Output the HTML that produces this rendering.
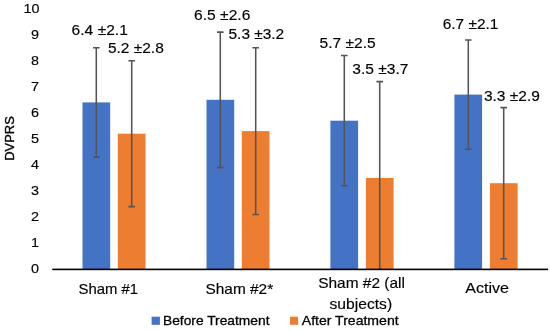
<!DOCTYPE html><html><head><meta charset="utf-8"><title>DVPRS chart</title><style>html,body{margin:0;padding:0;background:#fff}svg{display:block}text{font-family:"Liberation Sans",sans-serif;fill:#000;stroke:#000;stroke-width:0.15px}</style></head><body>
<svg width="550" height="331" viewBox="0 0 550 331">
<rect width="550" height="331" fill="#fff"/>
<rect x="82.5" y="102.4" width="27.7" height="166.7" fill="#4472C4"/>
<rect x="117.8" y="133.7" width="27.7" height="135.5" fill="#ED7D31"/>
<rect x="206.5" y="99.8" width="27.7" height="169.3" fill="#4472C4"/>
<rect x="241.8" y="131.1" width="27.7" height="138.1" fill="#ED7D31"/>
<rect x="330.4" y="120.7" width="27.7" height="148.5" fill="#4472C4"/>
<rect x="365.9" y="178.0" width="27.7" height="91.2" fill="#ED7D31"/>
<rect x="454.4" y="94.6" width="27.7" height="174.5" fill="#4472C4"/>
<rect x="489.9" y="183.2" width="27.7" height="86.0" fill="#ED7D31"/>
<path d="M96.3 47.7V157.1M93.0 47.7h6.6M93.0 157.1h6.6" stroke="#555" stroke-width="1.55" fill="none"/>
<path d="M131.7 60.7V206.6M128.4 60.7h6.6M128.4 206.6h6.6" stroke="#555" stroke-width="1.55" fill="none"/>
<path d="M220.3 32.1V167.6M217.0 32.1h6.6M217.0 167.6h6.6" stroke="#555" stroke-width="1.55" fill="none"/>
<path d="M255.7 47.7V214.4M252.4 47.7h6.6M252.4 214.4h6.6" stroke="#555" stroke-width="1.55" fill="none"/>
<path d="M344.3 55.5V185.8M341.0 55.5h6.6M341.0 185.8h6.6" stroke="#555" stroke-width="1.55" fill="none"/>
<path d="M379.7 81.6V269.1M376.4 81.6h6.6M376.4 274.4h0" stroke="#555" stroke-width="1.55" fill="none"/>
<path d="M468.3 39.9V149.3M465.0 39.9h6.6M465.0 149.3h6.6" stroke="#555" stroke-width="1.55" fill="none"/>
<path d="M503.7 107.6V258.7M500.4 107.6h6.6M500.4 258.7h6.6" stroke="#555" stroke-width="1.55" fill="none"/>
<rect x="52.3" y="268.6" width="495.9" height="1.6" fill="#000"/>
<text x="30.9" y="273.4" font-size="13.4" textLength="8.0" lengthAdjust="spacingAndGlyphs">0</text>
<text x="30.9" y="247.4" font-size="13.4" textLength="8.0" lengthAdjust="spacingAndGlyphs">1</text>
<text x="30.9" y="221.4" font-size="13.4" textLength="8.0" lengthAdjust="spacingAndGlyphs">2</text>
<text x="30.9" y="195.4" font-size="13.4" textLength="8.0" lengthAdjust="spacingAndGlyphs">3</text>
<text x="30.9" y="169.4" font-size="13.4" textLength="8.0" lengthAdjust="spacingAndGlyphs">4</text>
<text x="30.9" y="143.4" font-size="13.4" textLength="8.0" lengthAdjust="spacingAndGlyphs">5</text>
<text x="30.9" y="117.4" font-size="13.4" textLength="8.0" lengthAdjust="spacingAndGlyphs">6</text>
<text x="30.9" y="91.4" font-size="13.4" textLength="8.0" lengthAdjust="spacingAndGlyphs">7</text>
<text x="30.9" y="65.4" font-size="13.4" textLength="8.0" lengthAdjust="spacingAndGlyphs">8</text>
<text x="30.9" y="39.4" font-size="13.4" textLength="8.0" lengthAdjust="spacingAndGlyphs">9</text>
<text x="23.6" y="13.4" font-size="13.4" textLength="16.0" lengthAdjust="spacingAndGlyphs">10</text>
<text transform="translate(13.8,138.5) rotate(-90)" font-size="12.6" text-anchor="middle" textLength="44.5" style="stroke-width:0.35px" lengthAdjust="spacingAndGlyphs">DVPRS</text>
<text x="71.6" y="34.7" font-size="14.6" textLength="56.3" lengthAdjust="spacingAndGlyphs">6.4 ±2.1</text>
<text x="107.9" y="52.6" font-size="14.6" textLength="55.9" lengthAdjust="spacingAndGlyphs">5.2 ±2.8</text>
<text x="194.1" y="19.6" font-size="14.6" textLength="56.2" lengthAdjust="spacingAndGlyphs">6.5 ±2.6</text>
<text x="228.5" y="38.8" font-size="14.6" textLength="55.7" lengthAdjust="spacingAndGlyphs">5.3 ±3.2</text>
<text x="319.5" y="48.3" font-size="14.6" textLength="56.1" lengthAdjust="spacingAndGlyphs">5.7 ±2.5</text>
<text x="352.3" y="73.5" font-size="14.6" textLength="56.1" lengthAdjust="spacingAndGlyphs">3.5 ±3.7</text>
<text x="442.7" y="28.7" font-size="14.6" textLength="55.7" lengthAdjust="spacingAndGlyphs">6.7 ±2.1</text>
<text x="483.9" y="100.6" font-size="14.6" textLength="56.0" lengthAdjust="spacingAndGlyphs">3.3 ±2.9</text>
<text x="78.6" y="293.7" font-size="14.6" textLength="59.5" lengthAdjust="spacingAndGlyphs">Sham #1</text>
<text x="205.5" y="293.7" font-size="14.6" textLength="67.7" lengthAdjust="spacingAndGlyphs">Sham #2*</text>
<text x="318.2" y="288.1" font-size="14.6" textLength="86.7" lengthAdjust="spacingAndGlyphs">Sham #2 (all</text>
<text x="329.5" y="308.8" font-size="14.6" textLength="62.6" lengthAdjust="spacingAndGlyphs">subjects)</text>
<text x="465.3" y="293.3" font-size="14.6" textLength="43.7" lengthAdjust="spacingAndGlyphs">Active</text>
<rect x="151.6" y="316.7" width="8.3" height="8.1" fill="#4472C4"/>
<text x="163.0" y="324.6" style="stroke-width:0.28px" font-size="12.7" textLength="106.5" lengthAdjust="spacingAndGlyphs">Before Treatment</text>
<rect x="290.0" y="316.7" width="8.1" height="8.1" fill="#ED7D31"/>
<text x="301.8" y="324.6" style="stroke-width:0.28px" font-size="12.7" textLength="96.8" lengthAdjust="spacingAndGlyphs">After Treatment</text>
</svg></body></html>
